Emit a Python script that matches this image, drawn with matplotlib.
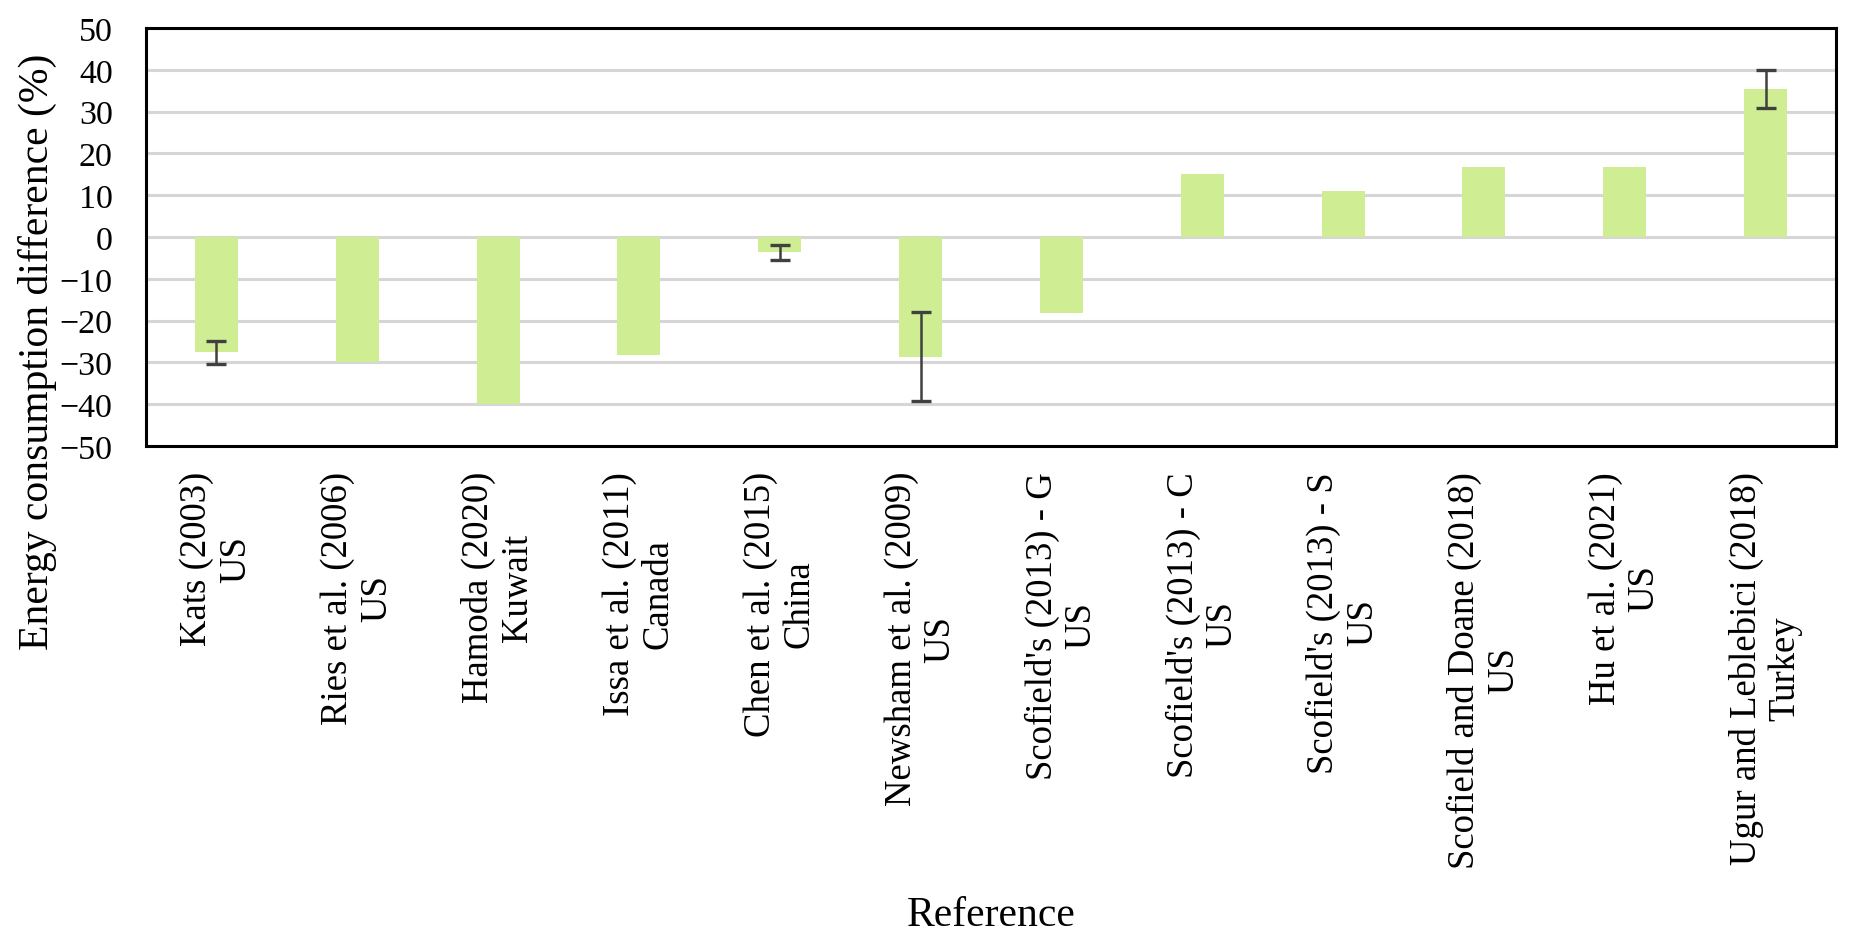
import numpy as np
import matplotlib
matplotlib.use('Agg')
import matplotlib.pyplot as plt

plt.rcParams['font.family'] = ['Liberation Serif', 'DejaVu Serif']

# study labels (author/year + country) and values
studies = ["Kats (2003)\nUS", "Ries et al. (2006)\nUS", "Hamoda (2020)\nKuwait",
           "Issa et al. (2011)\nCanada", "Chen et al. (2015)\nChina",
           "Newsham et al. (2009)\nUS", "Scofield's (2013) - G\nUS",
           "Scofield's (2013) - C\nUS", "Scofield's (2013) - S\nUS",
           "Scofield and Doane (2018)\nUS", "Hu et al. (2021)\nUS",
           "Ugur and Leblebici (2018)\nTurkey"]
diff_pct = [-27.6, -30.0, -40.0, -28.2, -3.6, -28.6, -18.1, 15.0, 11.1, 16.8, 16.8, 35.4]
err_pct = [2.8, 0, 0, 0, 1.8, 10.6, 0, 0, 0, 0, 0, 4.5]

W, H = 1859, 953
fig = plt.figure(figsize=(W / 100, H / 100), dpi=100)
left, right, top, bottom = 146, 1836, 29, 447
ax = fig.add_axes([left / W, 1 - bottom / H, (right - left) / W, (bottom - top) / H])

x = np.arange(len(studies))
ax.bar(x, diff_pct, width=0.305, color='#cfee94', zorder=2)
has_err = [i for i, e in enumerate(err_pct) if e > 0]
ax.errorbar(x[has_err], [diff_pct[i] for i in has_err], yerr=[err_pct[i] for i in has_err],
            fmt='none', ecolor='#404040', elinewidth=1.8, capsize=7, capthick=2.4, zorder=3)

ax.set_xlim(-0.5, len(studies) - 0.5)
ax.set_ylim(-50, 50)
ax.set_yticks(np.arange(-50, 51, 10))
ax.yaxis.grid(True, color='#d6d6d6', linewidth=2.2, zorder=0)
ax.set_axisbelow(True)

ax.set_xticks(x)
ax.set_xticklabels(studies, rotation=90, ha='center', va='top', multialignment='center',
                   fontsize=26.5, linespacing=1.15)
ax.tick_params(axis='x', length=0, pad=18)
ax.tick_params(axis='y', length=0, pad=24, labelsize=24.5)

for sp in ax.spines.values():
    sp.set_linewidth(2.2)
    sp.set_color('black')

fig.text(37 / W, 1 - 352 / H, 'Energy consumption difference (%)', rotation=90,
         ha='center', va='center', fontsize=30)
fig.text(991 / W, 1 - 916 / H, 'Reference', ha='center', va='center', fontsize=30)

fig.savefig('out.png', dpi=100, facecolor='white')
